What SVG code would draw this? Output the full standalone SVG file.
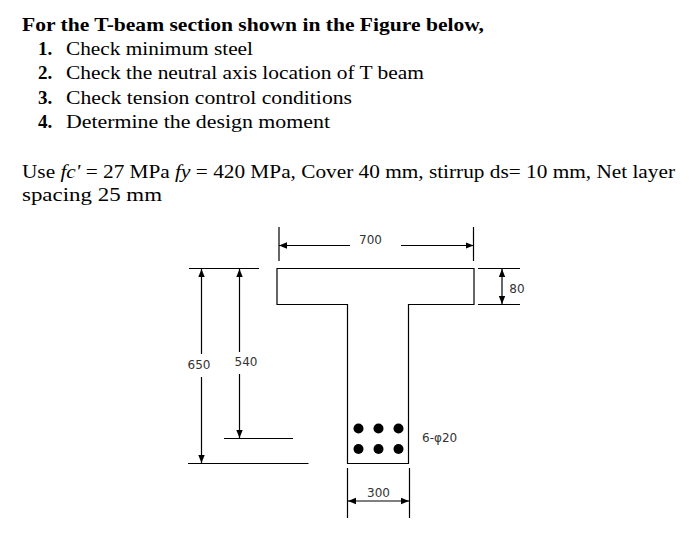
<svg xmlns="http://www.w3.org/2000/svg" width="700" height="544" viewBox="0 0 700 544">
<defs>
<marker id="ar" viewBox="0 0 10 10" refX="10" refY="5" markerWidth="8" markerHeight="8" markerUnits="userSpaceOnUse" orient="auto-start-reverse"><path d="M0,1 L10,5 L0,9 z" fill="#000"/></marker>
<style>
.t{font-family:"Liberation Serif",serif;font-size:19px;fill:#000}
.b{font-weight:bold}
.d{font-family:"DejaVu Sans","Liberation Sans",sans-serif;font-size:12px;fill:#333}
.l{stroke:#000;stroke-width:1.2;fill:none}
.a{stroke:#000;stroke-width:1.2;fill:none;marker-end:url(#ar);marker-start:url(#ar)}
</style>
</defs>
<rect width="700" height="544" fill="#fff"/>
<g id="text">
<text class="t b" x="22" y="31" textLength="462" lengthAdjust="spacingAndGlyphs">For the T-beam section shown in the Figure below,</text>
<text class="t b" x="38" y="55">1.</text><text class="t" x="66" y="55" textLength="187" lengthAdjust="spacingAndGlyphs">Check minimum steel</text>
<text class="t b" x="38" y="79">2.</text><text class="t" x="66" y="79" textLength="358" lengthAdjust="spacingAndGlyphs">Check the neutral axis location of T beam</text>
<text class="t b" x="38" y="104">3.</text><text class="t" x="66" y="104" textLength="286" lengthAdjust="spacingAndGlyphs">Check tension control conditions</text>
<text class="t b" x="38" y="128">4.</text><text class="t" x="66" y="128" textLength="264" lengthAdjust="spacingAndGlyphs">Determine the design moment</text>
<text class="t" x="22" y="178" textLength="653" lengthAdjust="spacingAndGlyphs">Use <tspan font-style="italic">fc'</tspan> = 27 MPa <tspan font-style="italic">fy</tspan> = 420 MPa, Cover 40 mm, stirrup ds= 10 mm, Net layer</text>
<text class="t" x="22" y="201" textLength="140" lengthAdjust="spacingAndGlyphs">spacing 25 mm</text>
</g>
<g id="beam">
<path class="l" d="M277,268.5 H474 V304.5 H408.5 V463.5 H347.5 V304.5 H277 Z"/>
</g>
<g id="bars" fill="#000">
<circle cx="358.5" cy="428.5" r="5"/><circle cx="378.5" cy="428.5" r="5"/><circle cx="398.5" cy="428.5" r="5"/>
<circle cx="358.5" cy="449" r="5"/><circle cx="378.5" cy="449" r="5"/><circle cx="398.5" cy="449" r="5"/>
</g>
<g id="connectors">
<path class="l" d="M279,227 V261 M473.5,227 V261"/>
<path class="l" d="M279,245.5 H350" style="marker-start:url(#ar)"/>
<path class="l" d="M401,245.5 H473.5" style="marker-end:url(#ar)"/>
<path class="l" d="M189,268.5 H259 M188,463.5 H308.5 M224,438.5 H293"/>
<path class="l" d="M201.5,269 V354" style="marker-start:url(#ar)"/>
<path class="l" d="M201.5,377 V463" style="marker-end:url(#ar)"/>
<path class="l" d="M239.5,269 V352" style="marker-start:url(#ar)"/>
<path class="l" d="M239.5,374 V438" style="marker-end:url(#ar)"/>
<path class="l" d="M478,268.5 H520 M478,304.5 H520"/>
<path class="a" d="M502,269 V304"/>
<path class="l" d="M347.5,468 V518 M409.5,468 V518"/>
<path class="a" d="M348,501 H409"/>
</g>
<g id="labels">
<text class="d" x="370.5" y="244" text-anchor="middle">700</text>
<text class="d" x="199" y="369" text-anchor="middle">650</text>
<text class="d" x="246" y="366" text-anchor="middle">540</text>
<text class="d" x="517" y="293" text-anchor="middle">80</text>
<text class="d" x="422" y="442">6-φ20</text>
<text class="d" x="378.5" y="497" text-anchor="middle">300</text>
</g>
</svg>
